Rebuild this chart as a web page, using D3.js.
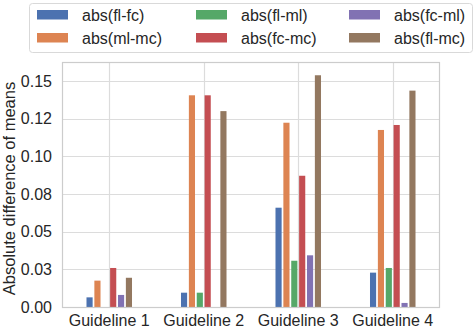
<!DOCTYPE html>
<html><head><meta charset="utf-8">
<script src="https://cdn.jsdelivr.net/npm/d3@7"></script>
<style>body{margin:0;background:#fff}svg{display:block;font-family:Arial,"Liberation Sans",sans-serif}</style>
</head><body>
<script>
const categories = ["Guideline 1","Guideline 2","Guideline 3","Guideline 4"];
const seriesNames = ["abs(fl-fc)","abs(ml-mc)","abs(fl-ml)","abs(fc-mc)","abs(fc-ml)","abs(fl-mc)"];
const seriesColors = ["#4c72b0","#dd8452","#55a868","#c44e52","#8172b3","#937860"];
const flfc = [0.0064, 0.0095, 0.0659, 0.0228];
const mlmc = [0.0175, 0.1405, 0.1223, 0.1175];
const flml = [0.0, 0.0095, 0.0307, 0.0259];
const fcmc = [0.0259, 0.1405, 0.0871, 0.1208];
const fcml = [0.0080, 0.0, 0.0343, 0.0027];
const flmc = [0.0194, 0.1300, 0.1538, 0.1436];
const seriesValues = [flfc, mlmc, flml, fcmc, fcml, flmc];
const yTicks = [0, 0.025, 0.05, 0.075, 0.1, 0.125, 0.15];
const yTickLabels = ["0.00","0.03","0.05","0.08","0.10","0.12","0.15"];
const yLabel = "Absolute difference of means";

const W = 474, H = 329;
const L = 62, R = 440, T = 62, B = 307;
const svg = d3.select("body").append("svg").attr("width", W).attr("height", H);

const x = d3.scalePoint().domain(categories).range([L, R]).padding(0.5);
const y = d3.scaleLinear().domain([0, 0.1626]).range([B, T]);
const step = x.step();
const pitch = step / 12, bw = pitch * 0.78;

// grid
const g = svg.append("g");
g.selectAll("line.hg").data(yTicks).join("line")
  .attr("x1", L).attr("x2", R).attr("y1", d => Math.round(y(d)) + 0.5).attr("y2", d => Math.round(y(d)) + 0.5)
  .attr("stroke", "#dcdcdc").attr("stroke-width", 1.2);
g.selectAll("line.vg").data(categories).join("line")
  .attr("y1", T).attr("y2", B).attr("x1", d => Math.round(x(d)) + 0.5).attr("x2", d => Math.round(x(d)) + 0.5)
  .attr("stroke", "#dcdcdc").attr("stroke-width", 1.2);

// bars
seriesValues.forEach((vals, si) => {
  svg.append("g").selectAll("rect").data(vals).join("rect")
    .attr("x", (d, i) => x(categories[i]) + (si - 2.5) * pitch - bw / 2)
    .attr("width", bw)
    .attr("y", d => y(d))
    .attr("height", d => B - y(d))
    .attr("fill", seriesColors[si]);
});

// frame
svg.append("rect").attr("x", L + 0.5).attr("y", T + 0.5).attr("width", R - L - 1).attr("height", B - T)
  .attr("fill", "none").attr("stroke", "#cccccc").attr("stroke-width", 1.2);

// y tick labels
svg.append("g").selectAll("text").data(yTicks).join("text")
  .attr("x", 52).attr("y", d => y(d)).attr("dy", "0.35em")
  .attr("text-anchor", "end").attr("font-size", 16).attr("fill", "#262626")
  .text((d, i) => yTickLabels[i]);

// x tick labels
svg.append("g").selectAll("text").data(categories).join("text")
  .attr("x", d => x(d)).attr("y", 325.5)
  .attr("text-anchor", "middle").attr("font-size", 16).attr("fill", "#262626")
  .text(d => d);

// y label
svg.append("text").attr("transform", `translate(14.5,${(T + B) / 2 + 4}) rotate(-90)`)
  .attr("text-anchor", "middle").attr("font-size", 16.5).attr("fill", "#262626").text(yLabel);

// legend
const lg = svg.append("g");
lg.append("rect").attr("x", 29.5).attr("y", 3.5).attr("width", 443).attr("height", 49).attr("rx", 3)
  .attr("fill", "#ffffff").attr("fill-opacity", 0.85).attr("stroke", "#d9d9d9").attr("stroke-width", 1);
const colX = [37, 196, 349];
const rowY = [10, 33];
seriesNames.forEach((name, i) => {
  const c = Math.floor(i / 2), r = i % 2;
  lg.append("rect").attr("x", colX[c]).attr("y", rowY[r]).attr("width", 31).attr("height", 9.5).attr("fill", seriesColors[i]);
  lg.append("text").attr("x", colX[c] + 45).attr("y", rowY[r] + 10.5).attr("font-size", 16).attr("fill", "#262626").text(name);
});
</script>
</body></html>
